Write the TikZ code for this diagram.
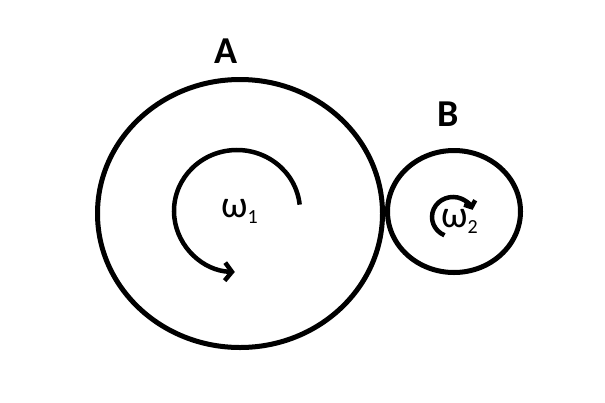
\documentclass[tikz,border=0pt]{standalone}
\usepackage{fontspec}
\setmainfont{Carlito}
\usetikzlibrary{arrows.meta,shapes.geometric}

\newcommand{\omegasub}[1]{ω\raisebox{-6pt}{\fontsize{20}{20}\selectfont #1}}

\begin{document}
\begin{tikzpicture}[x=1pt,y=-1pt,
    wheel/.style={draw,ellipse,line width=5pt,inner sep=0pt},
    spin/.style={line width=4.5pt},
    lbl/.style={font=\fontsize{38}{38}\selectfont\bfseries},
    rate/.style={font=\fontsize{38}{38}\selectfont,inner sep=0pt}]
    \useasboundingbox (0,0) rectangle (605,402);

    \node[wheel,minimum width=285pt,minimum height=268pt] (A) at (240,213.5) {};
    \node[wheel,minimum width=133pt,minimum height=122pt] (B) at (454,211.5) {};

    \node[lbl] (la) at (226,51) {A};
    \node[lbl] (lb) at (448,114) {B};

    \node[rate,anchor=base west] (w1) at (221,217) {\omegasub{1}};
    \node[rate,anchor=base west] (w2) at (441,227) {\omegasub{2}};

    \draw[spin,-{Straight Barb[length=7pt,width=18pt]}] (237,211) ++(-6:63 and 61)
        arc[start angle=-6,end angle=-268,x radius=63,y radius=61];
    \draw[spin,-{Straight Barb[length=5pt,width=12pt]}] (453,217) ++(114:21 and 20)
        arc[start angle=114,end angle=339,x radius=21,y radius=20];
\end{tikzpicture}
\end{document}
